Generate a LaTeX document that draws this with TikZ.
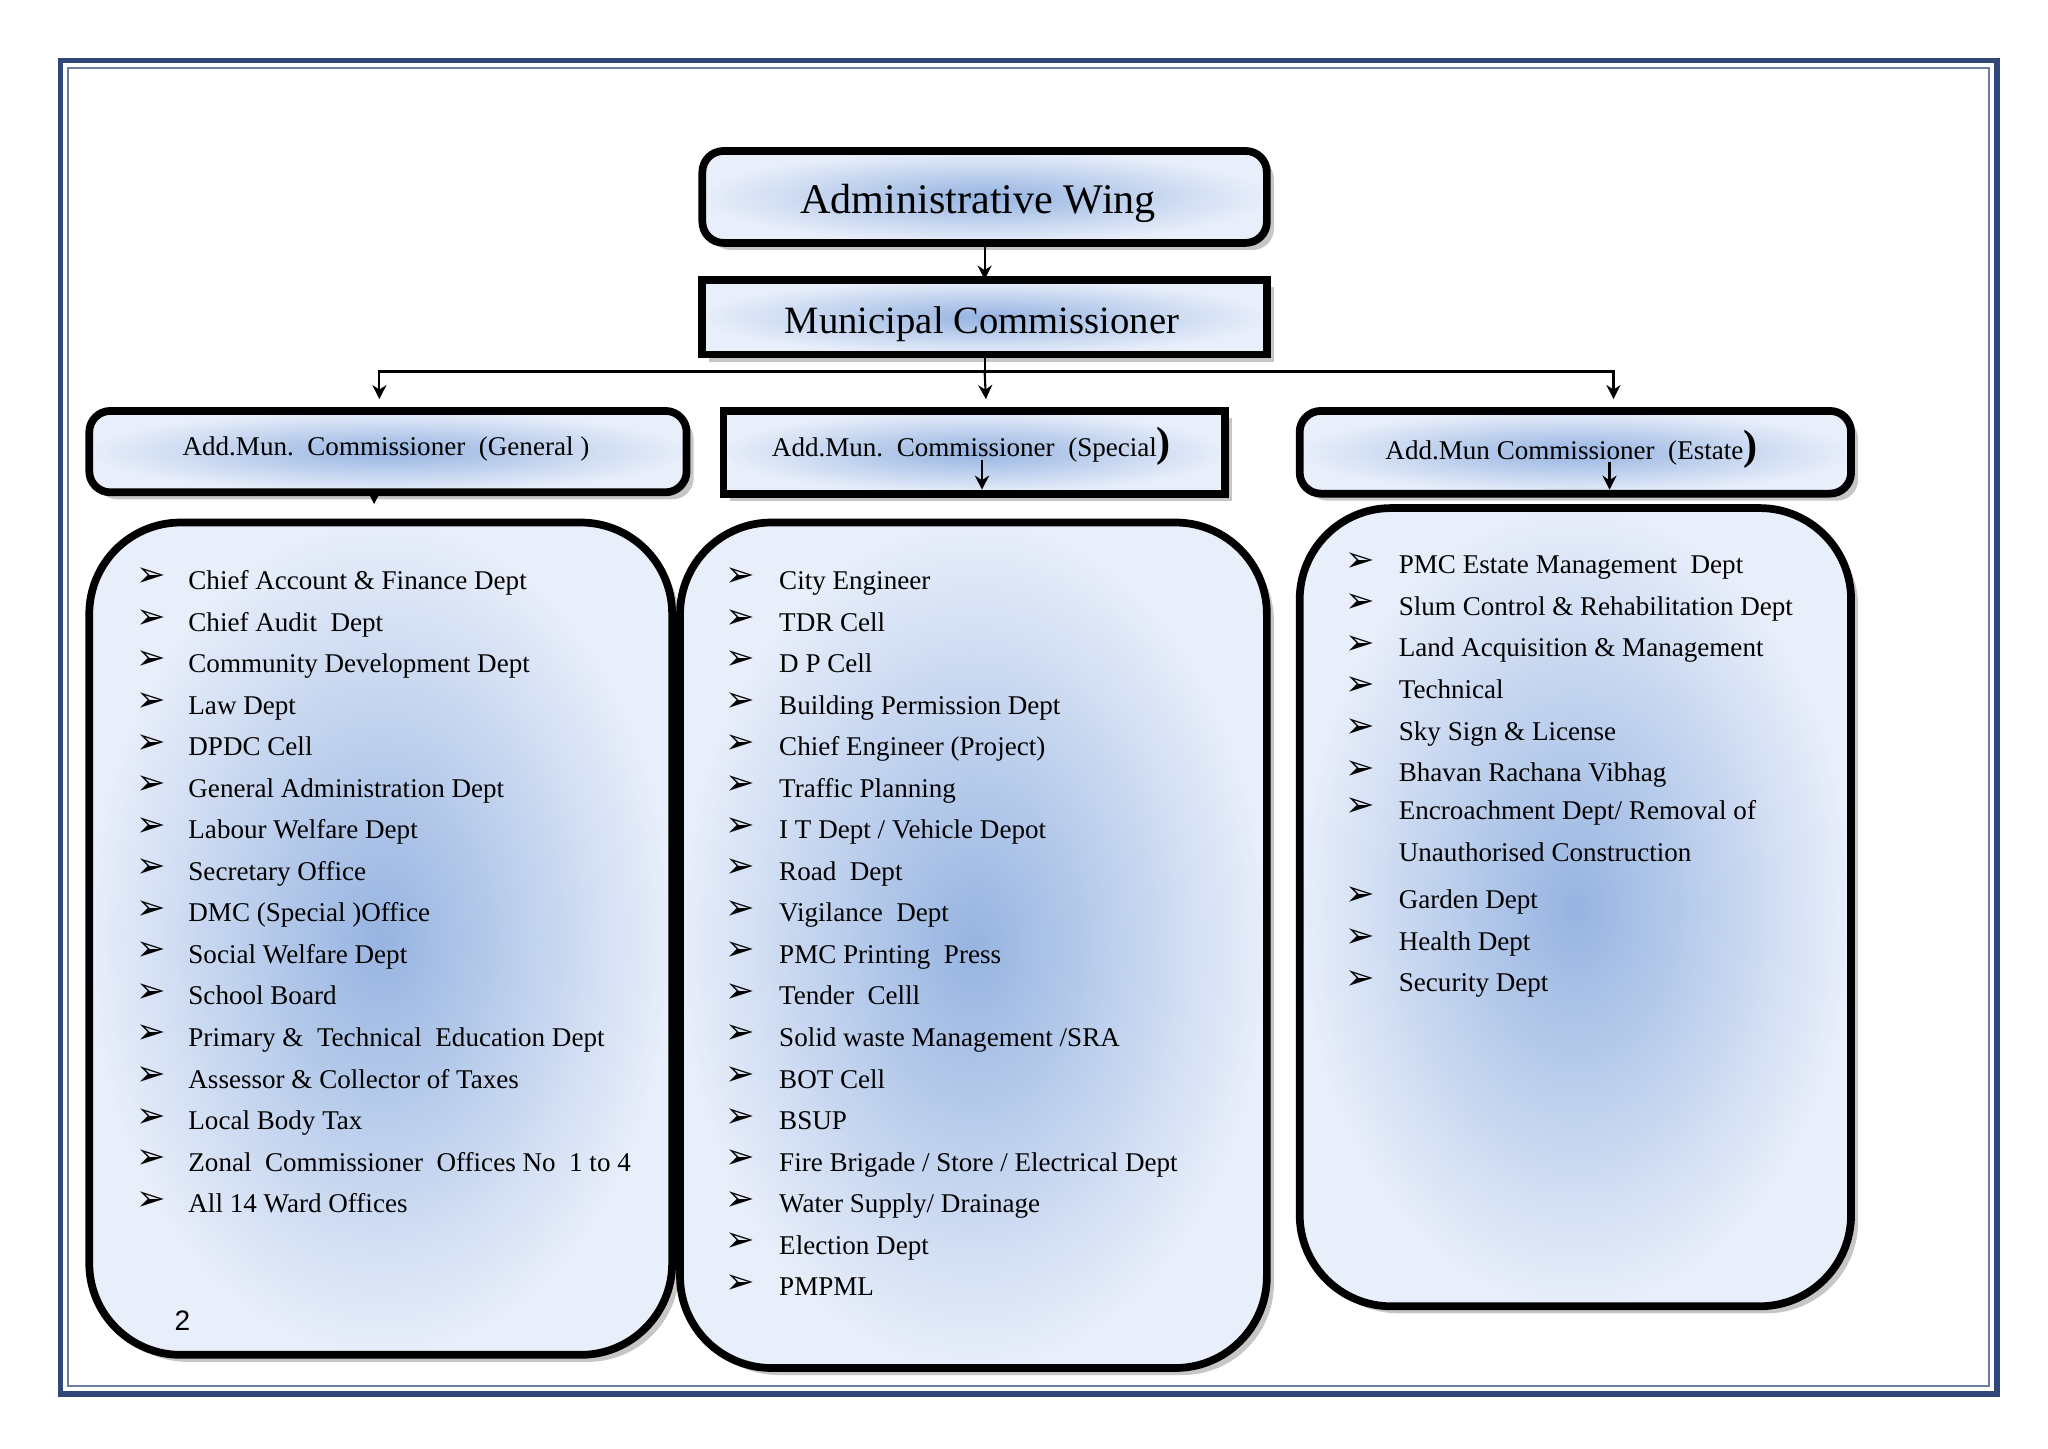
\documentclass[tikz,border=0pt]{standalone}
\usepackage{fontspec}
\setmainfont{Liberation Serif}
\newfontfamily\arrowfont{DejaVu Sans}
\newfontfamily\pagefont{Liberation Sans}
\usetikzlibrary{shadows,arrows.meta}
\definecolor{frameblue}{RGB}{47,72,120}
\definecolor{paleblue}{RGB}{232,238,250}
\definecolor{midblue}{RGB}{150,180,225}

\tikzset{
  box/.style={draw=black, line width=2.2pt, fill=paleblue,
    drop shadow={shadow xshift=2pt, shadow yshift=-2pt, opacity=0.45}},
  glow/.style={shading=radial, inner color=midblue, outer color=paleblue},
  item/.style={anchor=base west, inner sep=0pt, font=\fontsize{7.7}{10}\selectfont},
  tick/.style={anchor=base, inner sep=0pt, font=\arrowfont\fontsize{10}{10}\selectfont},
  link/.style={-{Stealth[length=4pt,width=4pt]}, line width=0.6pt},
}

\begin{document}
\begin{tikzpicture}[x=0.013128cm, y=-0.013128cm]
  \useasboundingbox (0,0) rectangle (1560,1103);

  % page frame
  \draw[frameblue, line width=1.6pt] (46,46) rectangle (1521,1062);
  \draw[frameblue!70, line width=0.5pt] (52,52) rectangle (1515,1056);

  % top boxes
  \draw[box, glow, rounded corners=6pt] (535,115) rectangle (965,185);
  \node[font=\fontsize{12}{14}\selectfont] (wing) at (745,155) {Administrative Wing};
  \coordinate (wingS) at (750,185);
  \draw[box, glow] (535,213) rectangle (965,270);
  \node[font=\fontsize{11}{14}\selectfont] (mc) at (748,247) {Municipal Commissioner};
  \coordinate (mcN) at (750,213);
  \coordinate (mcS) at (750,270);
  \draw[link] (wingS) -- (mcN);

  % header boxes
  \draw[box, rounded corners=6pt, glow] (68,313) rectangle (523,375);
  \node[font=\fontsize{7.7}{10}\selectfont] (gen) at (294,342) {Add.Mun.\ \ Commissioner\ \ (General )};
  \draw[box, glow] (551,313) rectangle (933,376);
  \node[font=\fontsize{7.7}{10}\selectfont] (spl) at (740,340) {Add.Mun.\ \ Commissioner\ \ (Special\textbf{\large )}};
  \draw[box, rounded corners=6pt, glow] (990,313) rectangle (1410,376);
  \node[font=\fontsize{7.7}{10}\selectfont] (est) at (1197,342) {Add.Mun Commissioner\ \ (Estate\textbf{\large )}};

  \coordinate (join) at (750,283);
  \coordinate (genN) at (289,304);
  \coordinate (splN) at (751,304);
  \coordinate (estN) at (1229,304);
  \draw[line width=0.6pt] (mcS) -- (join);
  \draw[link] (join) -| (genN);
  \draw[link] (join) -- (splN);
  \draw[link] (join) -| (estN);

  % list boxes
  \draw[box, glow, rounded corners=26pt] (68,398) rectangle (512,1032);
  \draw[box, glow, rounded corners=26pt] (518,398) rectangle (965,1042);
  \draw[box, glow, rounded corners=26pt] (990,387) rectangle (1410,995);

  \coordinate (genS) at (285,375);
  \coordinate (genL) at (285,384);
  \coordinate (splS) at (748,350);
  \coordinate (splL) at (748,373);
  \coordinate (estS) at (1226,352);
  \coordinate (estL) at (1226,373);
  \draw[link] (genS) -- (genL);
  \draw[link] (splS) -- (splL);
  \draw[link] (estS) -- (estL);

  % general list
  \foreach \t [count=\i] in {Chief Account \& Finance Dept, Chief Audit\ \ Dept,
      Community Development Dept, Law Dept, DPDC Cell, General Administration Dept,
      Labour Welfare Dept, Secretary Office, DMC (Special )Office, Social Welfare Dept,
      School Board, Primary \&\ \ Technical\ \ Education Dept, Assessor \& Collector of Taxes,
      Local Body Tax, Zonal\ \ Commissioner\ \ Offices No\ \ 1 to 4, All 14 Ward Offices}
  {
    \node[item] (g\i) at (143,{449+31.65*(\i-1)}) {\t};
    \node[tick] at (115,{447+31.65*(\i-1)}) {➢};
  }

  % special list
  \foreach \t [count=\i] in {City Engineer, TDR Cell, D P Cell, Building Permission Dept,
      Chief Engineer (Project), Traffic Planning, I T Dept / Vehicle Depot, Road\ \ Dept,
      Vigilance\ \ Dept, PMC Printing\ \ Press, Tender\ \ Celll, Solid waste Management /SRA,
      BOT Cell, BSUP, Fire Brigade / Store / Electrical Dept, Water Supply/ Drainage,
      Election Dept, PMPML}
  {
    \node[item] (s\i) at (593,{449+31.65*(\i-1)}) {\t};
    \node[tick] at (564,{447+31.65*(\i-1)}) {➢};
  }

  % estate list
  \foreach \t [count=\i] in {PMC Estate Management\ \ Dept, Slum Control \& Rehabilitation Dept,
      Land Acquisition \& Management, Technical, Sky Sign \& License, Bhavan Rachana Vibhag}
  {
    \node[item] (e\i) at (1065,{437+31.7*(\i-1)}) {\t};
    \node[tick] at (1036,{435+31.7*(\i-1)}) {➢};
  }
  \node[item] (e7) at (1065,624) {Encroachment Dept/ Removal of};
  \node[tick] at (1036,622) {➢};
  \node[item] (e7b) at (1065,656) {Unauthorised Construction};
  \foreach \t [count=\i] in {Garden Dept, Health Dept, Security Dept}
  {
    \node[item] (f\i) at (1065,{692+31.7*(\i-1)}) {\t};
    \node[tick] at (1036,{690+31.7*(\i-1)}) {➢};
  }

  \node[font=\pagefont\fontsize{8}{10}\selectfont] (page) at (139,1006) {2};
\end{tikzpicture}
\end{document}
